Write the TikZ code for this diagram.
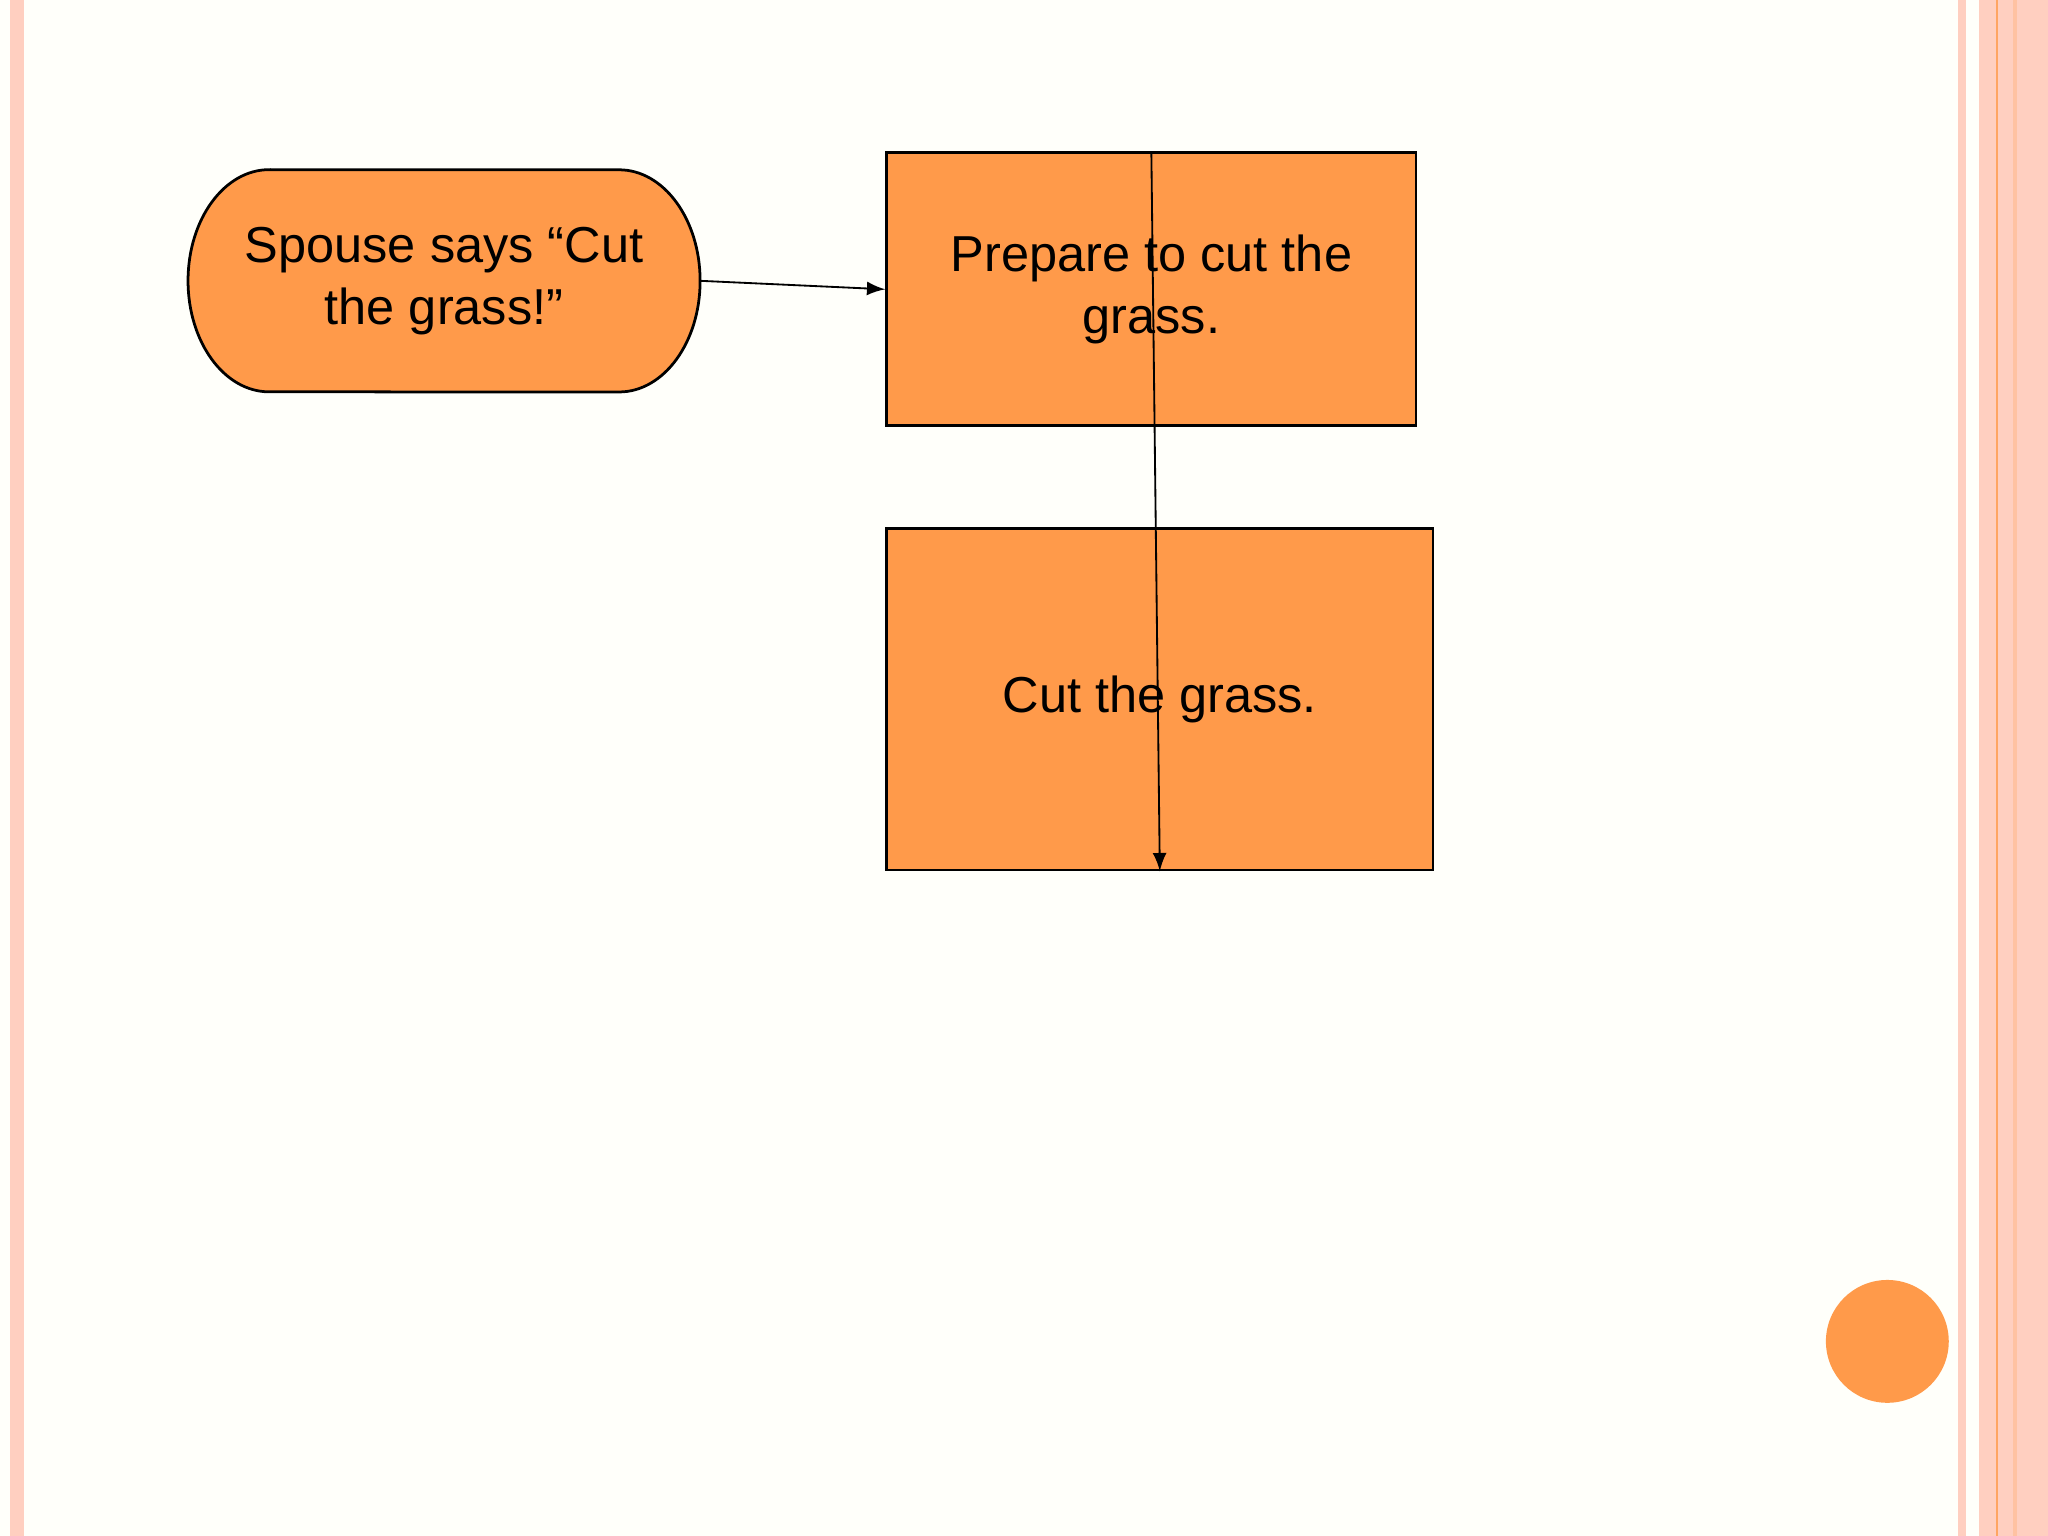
\documentclass[tikz,border=0pt]{standalone}
\usepackage{fontspec}
\setmainfont{Liberation Sans}
\definecolor{org}{HTML}{FF9A4A}
\definecolor{pk}{HTML}{FFCFC0}
\begin{document}
\begin{tikzpicture}[x=0.01cm,y=-0.01cm,
  box/.style={draw=black,fill=org,line width=0.6pt,align=center,font=\fontsize{11}{13.5}\selectfont,inner sep=0pt},
  arr/.style={-latex,line width=0.4pt}]
\fill[white!98!yellow] (0,0) rectangle (1568,1176);
\useasboundingbox (0,0) rectangle (1568,1176);
\fill[pk] (8,0) rectangle (18,1176);
\fill[pk] (1499,0) rectangle (1505,1176);
\fill[pk] (1515,0) rectangle (1568,1176);
\fill[org!80!pk] (1528,0) rectangle (1530,1176);
\fill[org!25!pk] (1541,0) rectangle (1544,1176);
\draw[box] (206,130) -- (474,130) arc[start angle=90,end angle=-90,x radius=0.62cm,y radius=0.85cm] -- (206,300) arc[start angle=270,end angle=90,x radius=0.62cm,y radius=0.85cm] -- cycle;
\node[align=center,font=\fontsize{11}{13.5}\selectfont] (s) at (340,215) {Spouse says “Cut\\the grass!”};
\coordinate (se) at (536,215);
\node[box,minimum width=4.05cm,minimum height=2.09cm] (p) at (881.5,221.5) {Prepare to cut the\\grass.};
\node[box,minimum width=4.18cm,minimum height=2.61cm] (c) at (888,535.5) {Cut the grass.};
\draw[arr] (se) -- (p.west);
\draw[arr] (p.north) -- (c.south);
\fill[org] (1445,1027) circle (0.47cm);
\end{tikzpicture}
\end{document}
